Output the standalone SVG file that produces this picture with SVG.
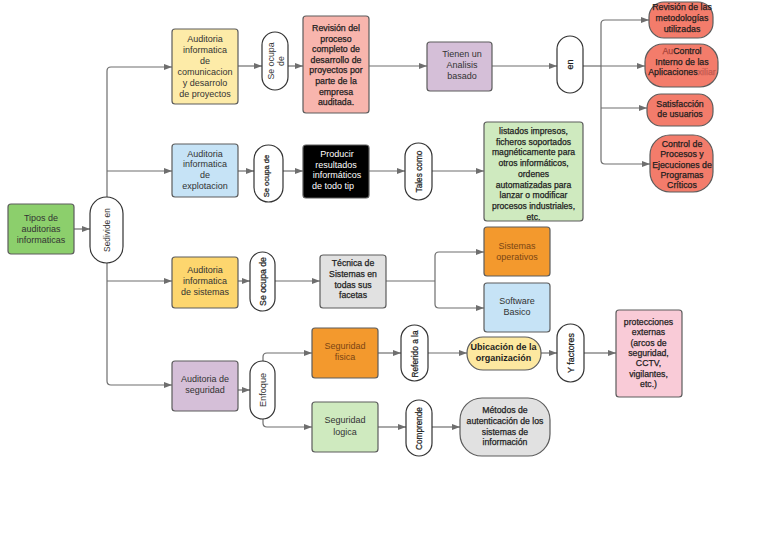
<svg xmlns="http://www.w3.org/2000/svg" width="768" height="543" viewBox="0 0 768 543">
<defs>
<marker id="ah" markerWidth="8" markerHeight="6" refX="8" refY="3" orient="auto" markerUnits="userSpaceOnUse">
<path d="M0,0 L8,3 L0,6 Z" fill="#6e6e6e"/>
</marker>
<style>
text{font-family:"Liberation Sans",Arial,sans-serif;font-size:9px;fill:#333;text-anchor:middle}
.b{font-size:8.8px;fill:#1e1e1e;stroke:#1e1e1e;stroke-width:0.25}
.bb{font-weight:bold;fill:#1e1e1e}
.n{stroke:#5c5c5c;stroke-width:1.2}
.p{fill:#fff;stroke:#333;stroke-width:1.2}
.c{fill:none;stroke:#6e6e6e;stroke-width:1.2}
.a{marker-end:url(#ah)}
</style>
</defs>
<rect width="768" height="543" fill="#fff"/>
<g id="connectors">
<path class="c a" d="M74,229 H90"/>
<path class="c a" d="M107,197 V71 Q107,67 111,67 H172"/>
<path class="c a" d="M107,171 H172"/>
<path class="c a" d="M107,263 V381 Q107,385 111,385 H172"/>
<path class="c a" d="M107,281 H172"/>
<path class="c a" d="M238,66 H262"/>
<path class="c a" d="M288,66 H303"/>
<path class="c a" d="M369,66 H427"/>
<path class="c a" d="M492,66 H557"/>
<path class="c" d="M583,66 H601"/>
<path class="c a" d="M601,66 V24 Q601,20 605,20 H649"/>
<path class="c a" d="M601,66 H645"/>
<path class="c a" d="M601,66 V160 Q601,164 605,164 H650"/>
<path class="c a" d="M601,108 H647"/>
<path class="c a" d="M238,171 H254"/>
<path class="c a" d="M283,171 H303"/>
<path class="c a" d="M369,171 H405"/>
<path class="c a" d="M432,171 H484"/>
<path class="c a" d="M238,281 H250"/>
<path class="c a" d="M275,281 H320"/>
<path class="c" d="M386,281 H435"/>
<path class="c a" d="M435,281 V256 Q435,252 439,252 H484"/>
<path class="c a" d="M435,281 V304 Q435,308 439,308 H484"/>
<path class="c a" d="M238,390 H250"/>
<path class="c a" d="M263,361 V357 Q263,353 267,353 H312"/>
<path class="c a" d="M263,419 V423 Q263,427 267,427 H312"/>
<path class="c a" d="M378,353 H401"/>
<path class="c a" d="M428,353 H467"/>
<path class="c a" d="M541,353 H557"/>
<path class="c a" d="M584,353 H616"/>
<path class="c a" d="M378,427 H406"/>
<path class="c a" d="M432,427 H460"/>
</g>
<g id="tipos">
<rect class="n" x="8" y="204" width="66" height="50" rx="3" fill="#8ccf6c"/>
<text x="41" y="221.2">Tipos de</text><text x="41" y="232.2">auditorias</text><text x="41" y="243.2">informaticas</text>
</g>
<g id="sedivide">
<rect class="p" x="90" y="197" width="33" height="66" rx="16.5"/>
<text transform="translate(106.5,230) rotate(-90)" y="3" style="font-size:8.4px">Sedivide en</text>
</g>
<g id="aud-comunicacion">
<rect class="n" x="172" y="29" width="66" height="75" rx="3" fill="#fdeba8"/>
<text x="205" y="41.5">Auditoria</text><text x="205" y="52.5">informatica</text><text x="205" y="63.5">de</text><text x="205" y="74.5">comunicacion</text><text x="205" y="85.5">y desarrolo</text><text x="205" y="96.5">de proyectos</text>
</g>
<g id="pill-se-ocupa-1">
<rect class="p" x="262" y="32" width="26" height="58" rx="13"/>
<text transform="translate(275,61) rotate(-90)" y="-1.5" style="font-size:8.8px">Se ocupa</text>
<text transform="translate(275,61) rotate(-90)" y="8.5" style="font-size:8.8px">de</text>
</g>
<g id="revision-proceso">
<rect class="n" x="303" y="16" width="66" height="97" rx="3" fill="#f8b5ad"/>
<text class="b" x="336" y="31">Revisión del</text><text class="b" x="336" y="41.6">proceso</text><text class="b" x="336" y="52.2">completo de</text><text class="b" x="336" y="62.8">desarrollo de</text><text class="b" x="336" y="73.4">proyectos por</text><text class="b" x="336" y="84">parte de la</text><text class="b" x="336" y="94.6">empresa</text><text class="b" x="336" y="105.2">auditada.</text>
</g>
<g id="tienen-analisis">
<rect class="n" x="427" y="42" width="65" height="49" rx="3" fill="#d5bfd8"/>
<text x="462" y="57">Tienen un</text><text x="462" y="68">Analisis</text><text x="462" y="79">basado</text>
</g>
<g id="pill-en">
<rect class="p" x="557" y="36" width="26" height="57" rx="13"/>
<text class="b" transform="translate(570,64.5) rotate(-90)" y="3" style="font-size:9px">en</text>
</g>
<g id="revision-metodologias">
<rect class="n" x="649" y="2" width="64" height="36" rx="15" fill="#f37c6b"/>
<text class="b" x="682" y="10.3">Revisión de las</text><text class="b" x="682" y="21.3">metodologías</text><text class="b" x="682" y="32.3">utilizadas</text>
</g>
<g id="control-interno">
<rect class="n" x="645" y="44" width="73" height="43" rx="18" fill="#f37c6b"/>
<text class="b" x="682" y="53.7"><tspan fill="#a8443a" stroke="#a8443a">Au</tspan>Control</text><text class="b" x="682" y="64.7">Interno de las</text><text class="b" x="682" y="75.3">Aplicaciones<tspan fill="#c45a50" stroke="#c45a50">xiliar</tspan></text>
</g>
<g id="satisfaccion">
<rect class="n" x="647" y="94" width="66" height="32" rx="14" fill="#f37c6b"/>
<text class="b" x="680" y="107">Satisfacción</text><text class="b" x="680" y="117.3">de usuarios</text>
</g>
<g id="control-procesos">
<rect class="n" x="650" y="135" width="63" height="57" rx="20" fill="#f37c6b"/>
<text class="b" x="682" y="147">Control de</text><text class="b" x="682" y="157.3">Procesos y</text><text class="b" x="682" y="167.7">Ejecuciones de</text><text class="b" x="682" y="178">Programas</text><text class="b" x="682" y="188.3">Críticos</text>
</g>
<g id="aud-explotacion">
<rect class="n" x="172" y="144" width="66" height="53" rx="3" fill="#c6e3f6"/>
<text x="205" y="156.5">Auditoria</text><text x="205" y="167.2">informatica</text><text x="205" y="177.9">de</text><text x="205" y="188.6">explotacion</text>
</g>
<g id="pill-se-ocupa-2">
<rect class="p" x="254" y="145" width="29" height="57" rx="14.5"/>
<text class="b" transform="translate(269,176) rotate(-90)" y="0" style="font-size:7.6px">Se ocupa de</text>
</g>
<g id="producir">
<rect class="n" x="303" y="145" width="66" height="53" rx="3" fill="#000"/>
<text x="337" y="157" style="fill:#fff">Producir</text><text x="336" y="167.6" style="fill:#fff">resultados</text><text x="337" y="178.2" style="fill:#fff">informáticos</text><text x="333" y="188.8" style="fill:#fff">de todo tip</text>
</g>
<g id="pill-tales">
<rect class="p" x="405" y="143" width="27" height="57" rx="13.5"/>
<text class="b" transform="translate(418.5,171.5) rotate(-90)" y="3" style="font-size:8.3px">Tales como</text>
</g>
<g id="listados">
<rect class="n" x="484" y="122" width="99" height="99" rx="3" fill="#cfeabf"/>
<text class="b" x="533.5" y="134" style="font-size:8.6px">listados impresos,</text><text class="b" x="533.5" y="144.7" style="font-size:8.6px">ficheros soportados</text><text class="b" x="533.5" y="155.4" style="font-size:8.6px">magnéticamente para</text><text class="b" x="533.5" y="166.1" style="font-size:8.6px">otros informáticos,</text><text class="b" x="533.5" y="176.8" style="font-size:8.6px">ordenes</text><text class="b" x="533.5" y="187.5" style="font-size:8.6px">automatizadas para</text><text class="b" x="533.5" y="198.2" style="font-size:8.6px">lanzar o modificar</text><text class="b" x="533.5" y="208.9" style="font-size:8.6px">procesos industriales,</text><text class="b" x="533.5" y="219.6" style="font-size:8.6px">etc.</text>
</g>
<g id="aud-sistemas">
<rect class="n" x="172" y="257" width="66" height="51" rx="3" fill="#fdd66e"/>
<text x="205" y="273">Auditoria</text><text x="205" y="284">informatica</text><text x="205" y="295">de sistemas</text>
</g>
<g id="pill-se-ocupa-3">
<rect class="p" x="250" y="252" width="25" height="59" rx="12.5"/>
<text class="b" transform="translate(262.5,281.5) rotate(-90)" y="3" style="font-size:8.7px">Se ocupa de</text>
</g>
<g id="tecnica">
<rect class="n" x="320" y="255" width="66" height="53" rx="3" fill="#e1e1e1"/>
<text class="b" x="353" y="266.3" style="font-size:8.7px">Técnica de</text><text class="b" x="353" y="277.3" style="font-size:8.7px">Sistemas en</text><text class="b" x="353" y="288" style="font-size:8.7px">todas sus</text><text class="b" x="353" y="298.3" style="font-size:8.7px">facetas</text>
</g>
<g id="sistemas-operativos">
<rect class="n" x="484" y="227" width="66" height="49" rx="3" fill="#f3992d"/>
<text x="517" y="248.7" style="fill:#7a4514">Sistemas</text><text x="517" y="259.7" style="fill:#7a4514">operativos</text>
</g>
<g id="software-basico">
<rect class="n" x="484" y="283" width="66" height="49" rx="3" fill="#c6e3f6"/>
<text x="517" y="304">Software</text><text x="517" y="315.3">Basico</text>
</g>
<g id="aud-seguridad">
<rect class="n" x="172" y="361" width="66" height="50" rx="3" fill="#d5bfd8"/>
<text x="205" y="382">Auditoria de</text><text x="205" y="393">seguridad</text>
</g>
<g id="pill-enfoque">
<rect class="p" x="250" y="361" width="25" height="58" rx="12.5"/>
<text transform="translate(262.5,390) rotate(-90)" y="3.2" style="font-size:9.2px">Enfoque</text>
</g>
<g id="seguridad-fisica">
<rect class="n" x="312" y="328" width="66" height="50" rx="3" fill="#f3992d"/>
<text x="345" y="349" style="fill:#7a4514">Seguridad</text><text x="345" y="360.3" style="fill:#7a4514">fisica</text>
</g>
<g id="pill-referido">
<rect class="p" x="401" y="325" width="27" height="56" rx="13.5"/>
<text class="b" transform="translate(414.5,354) rotate(-90)" y="3" style="font-size:8.3px">Referido a la</text>
</g>
<g id="ubicacion">
<rect class="n" x="467" y="337" width="74" height="33" rx="16" fill="#fde8a0"/>
<text class="bb" x="503.5" y="350.3">Ubicación de la</text><text class="bb" x="503.5" y="360.7">organización</text>
</g>
<g id="pill-y-factores">
<rect class="p" x="557" y="324" width="27" height="58" rx="13.5"/>
<text class="b" transform="translate(570.5,353) rotate(-90)" y="3" style="font-size:8.9px">Y factores</text>
</g>
<g id="protecciones">
<rect class="n" x="616" y="310" width="66" height="87" rx="3" fill="#f9cbd7"/>
<text class="b" x="648.5" y="324.7" style="font-size:8.7px">protecciones</text><text class="b" x="648.5" y="335.3" style="font-size:8.7px">externas</text><text class="b" x="648.5" y="345.7" style="font-size:8.7px">(arcos de</text><text class="b" x="648.5" y="356.3" style="font-size:8.7px">seguridad,</text><text class="b" x="648.5" y="366.3" style="font-size:8.7px">CCTV,</text><text class="b" x="648.5" y="377" style="font-size:8.7px">vigilantes,</text><text class="b" x="648.5" y="387.3" style="font-size:8.7px">etc.)</text>
</g>
<g id="seguridad-logica">
<rect class="n" x="312" y="402" width="66" height="50" rx="3" fill="#cfeabf"/>
<text x="345" y="423">Seguridad</text><text x="345" y="434.7">logica</text>
</g>
<g id="pill-comprende">
<rect class="p" x="406" y="400" width="26" height="56" rx="13"/>
<text class="b" transform="translate(419,428.5) rotate(-90)" y="3" style="font-size:8.2px">Comprende</text>
</g>
<g id="metodos">
<rect class="n" x="460" y="398" width="90" height="58" rx="22" fill="#e1e1e1"/>
<text class="b" x="505" y="413" style="font-size:8.7px">Métodos de</text><text class="b" x="505" y="423.7" style="font-size:8.7px">autenticación de los</text><text class="b" x="505" y="434.7" style="font-size:8.7px">sistemas de</text><text class="b" x="505" y="445" style="font-size:8.7px">información</text>
</g>
</svg>
